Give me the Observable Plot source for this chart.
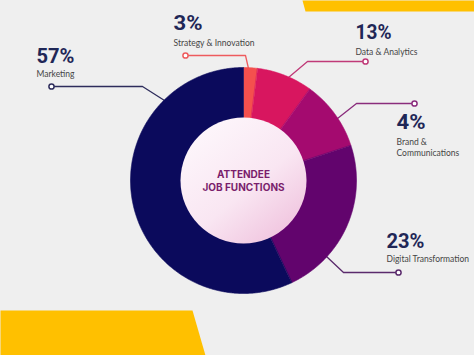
<!DOCTYPE html>
<html>
<head>
<meta charset="utf-8">
<script src="https://cdn.jsdelivr.net/npm/d3@7"></script>
<script src="https://cdn.jsdelivr.net/npm/@observablehq/plot@0.6"></script>
<style>
  html, body { margin: 0; padding: 0; background: #eeeeee; }
  #chart svg { display: block; }
</style>
</head>
<body>
<div id="chart"></div>
<script>
// ---- data ----
const categories = ["Strategy & Innovation", "Data & Analytics", "Brand & Communications", "Digital Transformation", "Marketing"];
const labelLines = ["Strategy & Innovation", "Data & Analytics", "Brand &\nCommunications", "Digital Transformation", "Marketing"];
const percentLabels = ["3%", "13%", "4%", "23%", "57%"];
// arc sizes as drawn in the picture (share of the ring, %)
const arcShares = [2, 8, 10, 23, 57];
const centerTitle = "ATTENDEE\nJOB FUNCTIONS";

// ---- style / layout ----
const W = 474, H = 355;
const palette = ["#f4504e", "#d8165f", "#a40a6f", "#62046d", "#0b0a5c"];
const leaderColors = ["#ee5b5e", "#c03a78", "#8a2c7c", "#5a2a6c", "#2e2d5c"];
const ring = {cx: 243, cy: 180, outer: 113, inner: 63};
const labelPos = [
  {x: 173, pctY: 23, txtY: 42, pctW: 29},
  {x: 355, pctY: 32, txtY: 51, pctW: 36},
  {x: 396, pctY: 122, txtY: 146.5, pctW: 29},
  {x: 386, pctY: 241, txtY: 258, pctW: 38},
  {x: 36,  pctY: 56, txtY: 73, pctW: 38}
];
const leaderPaths = [
  [[185, 55], [245, 55], [248, 68]],
  [[365, 61], [307, 61], [288, 77]],
  [[414, 103], [356, 103], [337, 118]],
  [[398, 272], [343, 272], [326, 256]],
  [[51, 86], [142, 86], [164, 100]]
];
const decor = [
  {id: "top", pts: [[302, 0], [474, 0], [474, 11], [305, 11]]},
  {id: "bottom", pts: [[0, 310], [192, 310], [205, 355], [0, 355]]}
];

// ---- build ring polygons from the data ----
const pie = d3.pie().sort(null).value(d => d).startAngle(0).endAngle(2 * Math.PI);
const arcs = pie(arcShares);
const ringPts = [];
arcs.forEach((a, i) => {
  const n = Math.max(4, Math.ceil((a.endAngle - a.startAngle) / 0.01));
  const pt = (ang, rad) => ({key: categories[i], x: ring.cx + rad * Math.sin(ang), y: ring.cy - rad * Math.cos(ang)});
  for (let k = 0; k <= n; k++) ringPts.push(pt(a.startAngle + (a.endAngle - a.startAngle) * k / n, ring.outer));
  for (let k = n; k >= 0; k--) ringPts.push(pt(a.startAngle + (a.endAngle - a.startAngle) * k / n, ring.inner - 2));
});

const decorPts = decor.flatMap(d => d.pts.map(p => ({id: d.id, x: p[0], y: p[1]})));
const leaderPts = leaderPaths.flatMap((path, i) => path.map(p => ({key: categories[i], x: p[0], y: p[1]})));
const markers = leaderPaths.map((path, i) => ({key: categories[i], x: path[0][0], y: path[0][1]}));
const pctRows = categories.map((c, i) => ({key: c, text: percentLabels[i], x: labelPos[i].x, y: labelPos[i].pctY}));
const txtRows = categories.map((c, i) => ({key: c, text: labelLines[i], x: labelPos[i].x, y: labelPos[i].txtY}));

const leaderScale = new Map(categories.map((c, i) => [c, leaderColors[i]]));

const chart = Plot.plot({
  width: W, height: H,
  margin: 0,
  style: {background: "#efefef", overflow: "visible"},
  x: {domain: [0, W], range: [0, W], axis: null},
  y: {domain: [0, H], range: [0, H], axis: null},
  color: {domain: categories, range: palette},
  marks: [
    Plot.line(decorPts, {x: "x", y: "y", z: "id", fill: "#ffc000", stroke: "none", curve: "linear-closed"}),
    Plot.line(leaderPts, {x: "x", y: "y", z: "key", stroke: d => leaderScale.get(d.key), strokeWidth: 1.3, curve: "linear"}),
    Plot.line(ringPts, {x: "x", y: "y", z: "key", fill: "key", stroke: "key", strokeWidth: 0.6, curve: "linear-closed"}),
    Plot.dot([{x: ring.cx, y: ring.cy}], {x: "x", y: "y", r: ring.inner, fill: "url(#innerGrad)", stroke: "none"}),
    Plot.dot(markers, {x: "x", y: "y", r: 2.6, fill: "#ffffff", stroke: d => leaderScale.get(d.key), strokeWidth: 1.5}),
    Plot.text(pctRows, {x: "x", y: "y", text: "text", textAnchor: "start", lineAnchor: "middle", className: "pct",
      fontFamily: "Roboto, 'DejaVu Sans', sans-serif",
      fontWeight: 700, fontSize: 21, fill: "#1f2757"}),
    Plot.text(txtRows, {x: "x", y: "y", text: "text", textAnchor: "start", lineAnchor: "middle",
      fontFamily: "Lato, 'Open Sans', sans-serif", fontSize: 8.5, lineHeight: 1.35, fill: "#454545"}),
    Plot.text([{x: ring.cx, y: ring.cy}], {x: "x", y: "y", text: () => centerTitle, textAnchor: "middle", lineAnchor: "middle",
      fontFamily: "Inter, 'Open Sans', sans-serif", fontWeight: 700, fontSize: 10, lineHeight: 1.3, fill: "#7a1e6c"})
  ]
});

// condense the percentage figures to the narrow display face of the original
d3.select(chart).selectAll(".pct text").each(function(d, i) {
  this.setAttribute("textLength", labelPos[i].pctW);
  this.setAttribute("lengthAdjust", "spacingAndGlyphs");
});

const defs = d3.select(chart).insert("defs", ":first-child");
const g = defs.append("linearGradient").attr("id", "innerGrad")
  .attr("x1", "0.15").attr("y1", "0.1").attr("x2", "0.85").attr("y2", "0.95");
g.append("stop").attr("offset", "0%").attr("stop-color", "#fdf6fb");
g.append("stop").attr("offset", "55%").attr("stop-color", "#f9e6f2");
g.append("stop").attr("offset", "100%").attr("stop-color", "#f0c3de");

document.getElementById("chart").append(chart);
</script>
</body>
</html>
